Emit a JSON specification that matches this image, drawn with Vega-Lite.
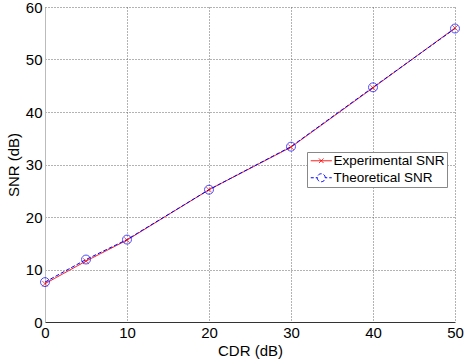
{
  "$schema": "https://vega.github.io/schema/vega-lite/v6.json",
  "width": 410,
  "height": 315,
  "autosize": {"type": "none"},
  "padding": {"left": 45, "top": 7, "right": 19, "bottom": 41},
  "background": "white",
  "config": {
    "font": "Liberation Sans",
    "view": {"stroke": null},
    "axis": {
      "labelFont": "Liberation Sans",
      "titleFont": "Liberation Sans",
      "labelFontSize": 15,
      "titleFontSize": 15,
      "titleFontWeight": "normal",
      "labelColor": "black",
      "titleColor": "black",
      "ticks": false,
      "gridColor": "#666666",
      "gridDash": [1, 2],
      "gridOpacity": 1,
      "gridWidth": 1
    }
  },
  "data": {
    "values": [
      {"series": "Experimental SNR", "cdr": 0, "snr": 7.3},
      {"series": "Experimental SNR", "cdr": 5, "snr": 11.6},
      {"series": "Experimental SNR", "cdr": 10, "snr": 15.6},
      {"series": "Experimental SNR", "cdr": 20, "snr": 25.2},
      {"series": "Experimental SNR", "cdr": 30, "snr": 33.3},
      {"series": "Experimental SNR", "cdr": 40, "snr": 44.6},
      {"series": "Experimental SNR", "cdr": 50, "snr": 56.0},
      {"series": "Theoretical SNR", "cdr": 0, "snr": 7.6},
      {"series": "Theoretical SNR", "cdr": 5, "snr": 11.9},
      {"series": "Theoretical SNR", "cdr": 10, "snr": 15.7},
      {"series": "Theoretical SNR", "cdr": 20, "snr": 25.2},
      {"series": "Theoretical SNR", "cdr": 30, "snr": 33.4},
      {"series": "Theoretical SNR", "cdr": 40, "snr": 44.7},
      {"series": "Theoretical SNR", "cdr": 50, "snr": 55.9}
    ]
  },
  "encoding": {
    "x": {
      "field": "cdr", "type": "quantitative",
      "scale": {"domain": [0, 50], "nice": false},
      "axis": {"title": "CDR (dB)", "values": [0, 10, 20, 30, 40, 50], "labelPadding": 3, "titlePadding": 3, "domainColor": "#333333", "labelFlush": false}
    },
    "y": {
      "field": "snr", "type": "quantitative",
      "scale": {"domain": [0, 60], "nice": false},
      "axis": {"title": "SNR (dB)", "values": [0, 10, 20, 30, 40, 50, 60], "labelPadding": 3, "titlePadding": 4, "domainColor": "#bbbbbb", "labelFlush": false}
    }
  },
  "layer": [
    {
      "mark": {"type": "line", "strokeWidth": 1},
      "encoding": {
        "color": {
          "field": "series", "type": "nominal",
          "scale": {"domain": ["Experimental SNR", "Theoretical SNR"], "range": ["#ff0000", "#0000ff"]},
          "legend": {
            "title": null,
            "orient": "none",
            "legendX": 262,
            "legendY": 145,
            "fillColor": "white",
            "strokeColor": "#888888",
            "padding": 2,
            "rowPadding": 2,
            "labelFontSize": 13.5,
            "labelFont": "Liberation Sans",
            "labelColor": "black",
            "labelLimit": 300,
            "labelOffset": 11,
            "symbolSize": 100,
            "symbolStrokeWidth": 1,
            "encode": {
              "symbols": {
                "update": {
                  "shape": {"signal": "datum.value === 'Experimental SNR' ? 'M-1,0H3.2M0.65,-0.45L1.55,0.45M0.65,0.45L1.55,-0.45' : 'M-1,0H-0.4M0,0H0.3M1.9,0H2.3M2.7,0H3.2M0.3,0A0.8,0.8 0 1,0 1.9,0A0.8,0.8 0 1,0 0.3,0'"},
                  "stroke": {"signal": "datum.value === 'Experimental SNR' ? '#ff0000' : '#0000ff'"},
                  "strokeDash": {"value": [1, 0]},
                  "fill": {"value": "transparent"}
                }
              }
            }
          }
        },
        "strokeDash": {
          "field": "series", "type": "nominal",
          "scale": {"domain": ["Experimental SNR", "Theoretical SNR"], "range": [[1, 0], [4, 2]]},
          "legend": null
        }
      }
    },
    {
      "transform": [{"filter": "datum.series === 'Experimental SNR'"}],
      "mark": {"type": "point", "shape": "M-1,-1L1,1M-1,1L1,-1", "filled": false, "size": 30, "strokeWidth": 1, "color": "#ff0000"}
    },
    {
      "transform": [{"filter": "datum.series === 'Theoretical SNR'"}],
      "mark": {"type": "point", "shape": "circle", "filled": false, "size": 80, "strokeWidth": 1, "color": "#0000ff"}
    }
  ]
}
